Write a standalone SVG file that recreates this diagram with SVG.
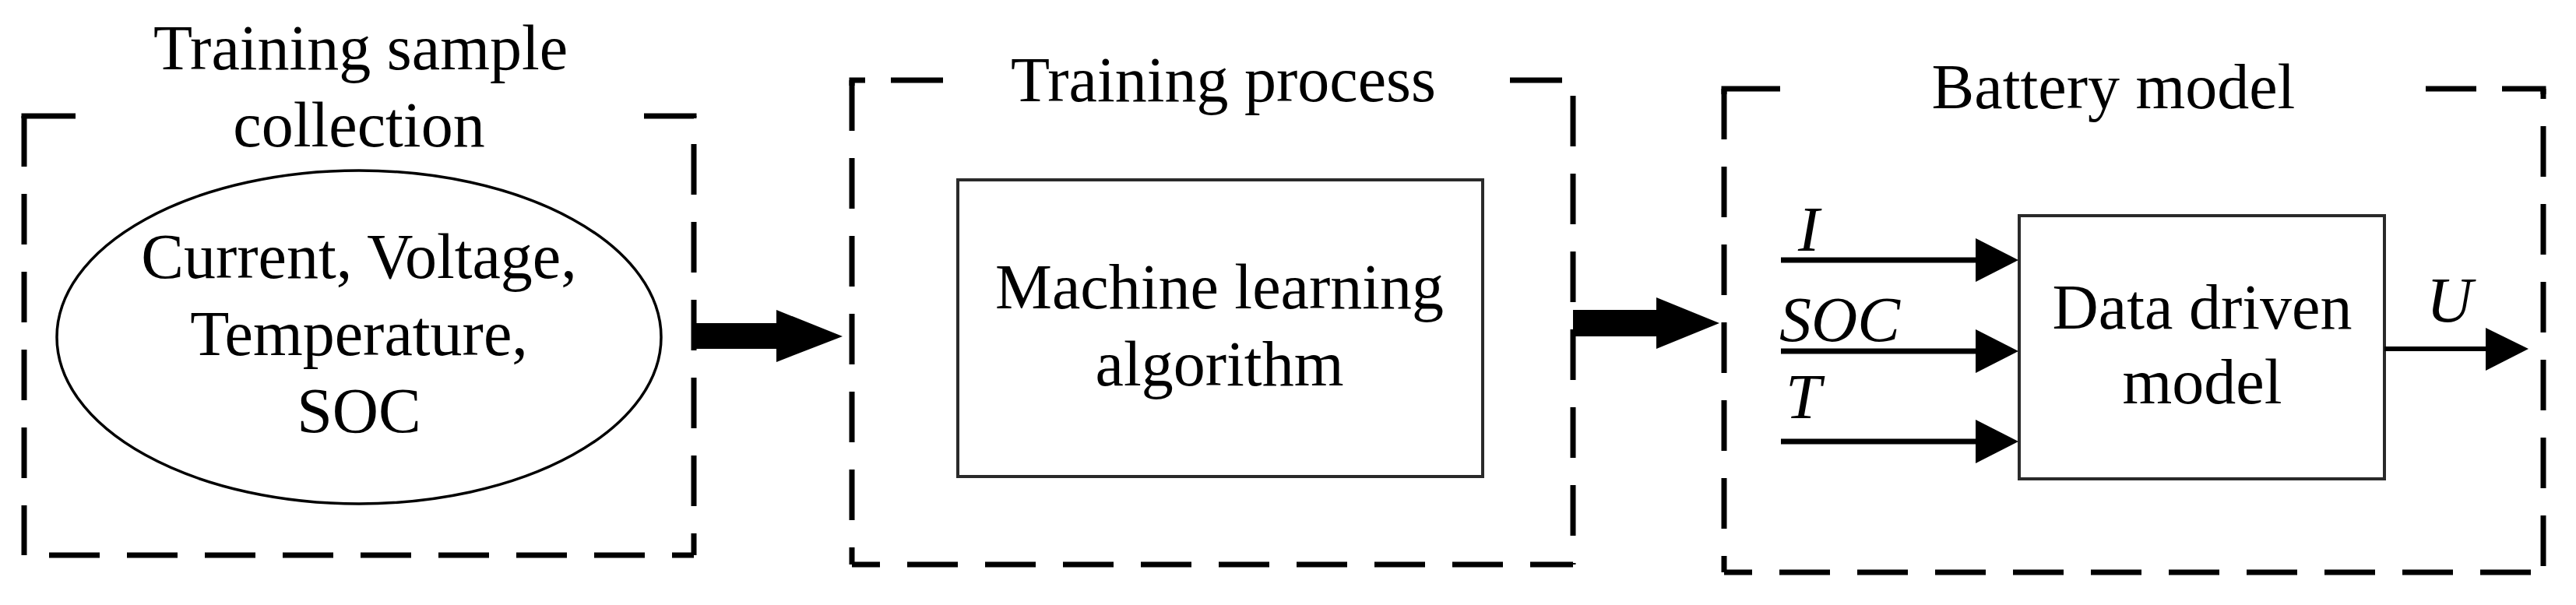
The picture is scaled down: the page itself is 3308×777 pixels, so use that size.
<svg xmlns="http://www.w3.org/2000/svg" width="3308" height="777" viewBox="0 0 3308 777">
<style>
.bg{fill:#ffffff}
.dash{fill:none;stroke:#000;stroke-width:7;stroke-dasharray:65 35}
.seg{fill:none;stroke:#000;stroke-width:7}
.t{font-family:"Liberation Serif","Times New Roman",serif;font-size:82px;fill:#000;text-anchor:middle}
.it{font-family:"Liberation Serif","Times New Roman",serif;font-size:82px;font-style:italic;fill:#000}
.box{fill:#fff;stroke:#2a2a2a;stroke-width:4}
.ln{fill:none;stroke:#000;stroke-width:7}
.head{fill:#000}
</style>
<rect class="bg" x="0" y="0" width="3308" height="777"/>

<g id="group-training-sample-collection">
  <path class="dash" d="M31,149 V713"/>
  <path class="dash" style="stroke-dashoffset:68" d="M31,713 H891"/>
  <path class="dash" style="stroke-dashoffset:64" d="M891,149 V713"/>
  <path class="seg" d="M31,152 V149 H97 M827,149 H891 V152"/>
  <text class="t" x="463" y="89">Training sample</text>
  <text class="t" x="461" y="188">collection</text>
</g>

<g id="node-inputs">
  <ellipse cx="461" cy="433" rx="388" ry="214" fill="#fff" stroke="#000" stroke-width="3.5"/>
  <text class="t" x="461" y="357">Current, Voltage,</text>
  <text class="t" x="461" y="456">Temperature,</text>
  <text class="t" x="461" y="555">SOC</text>
</g>

<g id="group-training-process">
  <path class="dash" d="M1094,103 V725"/>
  <path class="dash" style="stroke-dashoffset:29" d="M1094,725 H2020"/>
  <path class="dash" style="stroke-dashoffset:80" d="M2020,103 V725"/>
  <path class="seg" d="M1094,110 V103 H1111 M1144,103 H1211 M1939,103 H2006"/>
  <text class="t" x="1571" y="130">Training process</text>
</g>

<g id="node-ml">
  <rect class="box" x="1230" y="231" width="674" height="381"/>
  <text class="t" x="1566" y="396">Machine learning</text>
  <text class="t" x="1566" y="495">algorithm</text>
</g>

<g id="group-battery-model">
  <path class="dash" d="M2214,114 V735"/>
  <path class="dash" style="stroke-dashoffset:29" d="M2214,735 H3266"/>
  <path class="dash" style="stroke-dashoffset:52" d="M3266,114 V735"/>
  <path class="seg" d="M2214,121 V114 H2286 M3115,114 H3180 M3213,114 H3266 V121"/>
  <text class="t" x="2714" y="139">Battery model</text>
</g>

<g id="node-data-driven">
  <rect class="box" x="2593" y="277" width="469" height="338"/>
  <text class="t" x="2828" y="422">Data driven</text>
  <text class="t" x="2828" y="518">model</text>
</g>

<g id="connectors">
  <polygon class="head" points="890,415 997,415 997,398 1082,432 997,465 997,448 890,448"/>
  <polygon class="head" points="2020,398 2127,398 2127,382 2208,415 2127,448 2127,432 2020,432"/>
  <line class="ln" x1="2287" y1="334" x2="2540" y2="334"/>
  <polygon class="head" points="2537,306 2592,334 2537,362"/>
  <line class="ln" x1="2287" y1="451" x2="2540" y2="451"/>
  <polygon class="head" points="2537,423 2592,451 2537,479"/>
  <line class="ln" x1="2287" y1="567" x2="2540" y2="567"/>
  <polygon class="head" points="2537,539 2592,567 2537,595"/>
  <line class="ln" style="stroke-width:6" x1="3062" y1="448" x2="3195" y2="448"/>
  <polygon class="head" points="3192,421 3247,448 3192,476"/>
  <text class="it" x="2309" y="322">I</text>
  <text class="it" x="2285" y="438">SOC</text>
  <text class="it" x="2293" y="537">T</text>
  <text class="it" x="3116" y="413">U</text>
</g>
</svg>
